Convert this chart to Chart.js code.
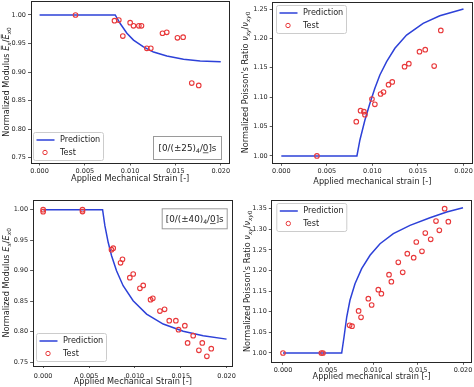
<!DOCTYPE html>
<html>
<head>
<meta charset="utf-8">
<script src="https://cdn.jsdelivr.net/npm/chart.js@4.4.1/dist/chart.umd.min.js"></script>
<style>
  html, body { margin: 0; padding: 0; background: #fff; }
  #wrap { position: relative; width: 474px; height: 387px; overflow: hidden; }
  .panel { position: absolute; }
</style>
</head>
<body>
<div id="wrap">
  <div class="panel" style="left:0;top:0;width:237px;height:193px"><canvas id="c1"></canvas></div>
  <div class="panel" style="left:237px;top:0;width:237px;height:193px"><canvas id="c2"></canvas></div>
  <div class="panel" style="left:0;top:193px;width:237px;height:194px"><canvas id="c3"></canvas></div>
  <div class="panel" style="left:237px;top:193px;width:237px;height:194px"><canvas id="c4"></canvas></div>
</div>
<script>
// axis ticks
const strainTicks = [0, 0.005, 0.010, 0.015, 0.020];
const modulusTicks = [0.75, 0.80, 0.85, 0.90, 0.95, 1.00];
const poissonTicks25 = [1.00, 1.05, 1.10, 1.15, 1.20, 1.25];
const poissonTicks40 = [1.00, 1.05, 1.10, 1.15, 1.20, 1.25, 1.30, 1.35];

const seriesLabels = ['Prediction', 'Test'];

// [0/(±25)4/0]s - modulus
const predStrainMod25 = [0, 0.00835, 0.0089, 0.00964, 0.01037, 0.01147, 0.01258, 0.01405, 0.01589, 0.01773, 0.020];
const predModulus25   = [1.0, 1.0, 0.985, 0.968, 0.956, 0.944, 0.935, 0.928, 0.9225, 0.9195, 0.9178];
const testStrainMod25 = [0.00397, 0.00827, 0.00875, 0.00919, 0.0100, 0.01037, 0.01096, 0.01125, 0.01184, 0.01228, 0.01357, 0.01404, 0.01522, 0.01585, 0.0168, 0.01757];
const testModulus25   = [1.000, 0.990, 0.991, 0.963, 0.9865, 0.981, 0.981, 0.981, 0.9415, 0.9415, 0.968, 0.9695, 0.960, 0.961, 0.8806, 0.8765];

// [0/(±25)4/0]s - poisson
const predStrainPoi25 = [0, 0.0083, 0.00863, 0.00918, 0.00973, 0.01027, 0.01082, 0.01156, 0.01247, 0.01375, 0.01557, 0.0174, 0.020];
const predPoisson25   = [1.0, 1.0, 1.0272, 1.0612, 1.0896, 1.1151, 1.1378, 1.1604, 1.1832, 1.2058, 1.2257, 1.2386, 1.25];
const testStrainPoi25 = [0.00391, 0.00823, 0.0087, 0.00907, 0.00918, 0.00995, 0.01027, 0.0109, 0.01122, 0.01177, 0.01218, 0.01353, 0.014, 0.01517, 0.0158, 0.01678, 0.01751];
const testPoisson25   = [1.000, 1.0584, 1.0771, 1.0754, 1.0703, 1.0969, 1.0879, 1.1054, 1.1088, 1.1213, 1.1259, 1.1519, 1.157, 1.1774, 1.1808, 1.153, 1.2137];

// [0/(±40)4/0]s - modulus
const predStrainMod40 = [0, 0.00648, 0.00673, 0.00709, 0.00746, 0.008, 0.00872, 0.00981, 0.01128, 0.01309, 0.01527, 0.01745, 0.020];
const predModulus40   = [1.0, 1.0, 0.9738, 0.9466, 0.9246, 0.9001, 0.8755, 0.8509, 0.8291, 0.8127, 0.8008, 0.7936, 0.788];
const testStrainMod40 = [0, 0, 0.00429, 0.00429, 0.00745, 0.00764, 0.00844, 0.00865, 0.00945, 0.00982, 0.01055, 0.01091, 0.01171, 0.01196, 0.01273, 0.01324, 0.01375, 0.01447, 0.01476, 0.01545, 0.01575, 0.01636, 0.01735, 0.01698, 0.01785, 0.01833];
const testModulus40   = [1.000, 0.9967, 1.000, 0.997, 0.9345, 0.937, 0.913, 0.9187, 0.8886, 0.8947, 0.8712, 0.876, 0.8526, 0.8548, 0.834, 0.8368, 0.8182, 0.8182, 0.8035, 0.81, 0.7817, 0.7937, 0.7817, 0.7697, 0.7598, 0.7724];

// [0/(±40)4/0]s - poisson
const predStrainPoi40 = [0, 0.00652, 0.00678, 0.00708, 0.00744, 0.008, 0.00874, 0.00967, 0.01078, 0.01226, 0.01411, 0.01633, 0.01819, 0.020];
const predPoisson40   = [1.0, 1.0, 1.0388, 1.0873, 1.1278, 1.1681, 1.2045, 1.237, 1.2651, 1.2894, 1.3097, 1.3282, 1.342, 1.3524];
const testStrainPoi40 = [0, 0.00426, 0.00444, 0.0074, 0.00767, 0.0084, 0.00867, 0.00948, 0.00985, 0.01059, 0.01093, 0.01178, 0.01204, 0.01281, 0.0133, 0.01381, 0.01452, 0.01481, 0.01544, 0.01581, 0.01641, 0.017, 0.01737, 0.01796, 0.01837];
const testPoisson40   = [1.000, 1.0, 1.0, 1.067, 1.065, 1.102, 1.0865, 1.1318, 1.1164, 1.1536, 1.1439, 1.19, 1.173, 1.2199, 1.1956, 1.2409, 1.2312, 1.2692, 1.2466, 1.291, 1.2757, 1.3201, 1.2975, 1.35, 1.3185];

const FONT = '"DejaVu Sans", sans-serif';
const BLUE = '#2d41d8';
const RED = '#e8383a';
const INK = '#1e1e1e';

function pts(xs, ys) { return xs.map((x, i) => ({ x: x, y: ys[i] })); }

const modTitle = bar => [
    { t: 'Normalized Modulus ' },
    { t: 'E', it: true, bar: bar }, { t: 'x', it: true, sub: true },
    { t: '/' },
    { t: 'E', it: true, bar: bar }, { t: 'x', it: true, sub: true }, { t: '0', sub: true }
];
const poiTitle = [
    { t: 'Normalized Poisson\'s Ratio ' },
    { t: 'ν', it: true }, { t: 'xy', it: true, sub: true },
    { t: '/' },
    { t: 'ν', it: true }, { t: 'xy', it: true, sub: true }, { t: '0', sub: true }
];
const layupText = angle => [
    { t: '[0/(±' + angle + ')' }, { t: '4', sub: true }, { t: '/' }, { t: '0', ul: true }, { t: ']s' }
];

// panel geometry (pixels inside each canvas)
const panels = [
    { id: 'c1', w: 237, h: 193, area: [30.5, 1, 229.8, 163], xr: [-0.001, 0.021], yr: [0.7405, 1.0245],
      yTicks: modulusTicks, pred: [predStrainMod25, predModulus25], test: [testStrainMod25, testModulus25],
      xTitle: 'Applied Mechanical Strain [-]', xPad: 8.8, xTickPad: 2, yTitle: modTitle(true), yTitleX: 5.7,
      legend: [33, 132], note: { box: [153, 136, 69, 24], segs: layupText(25) } },
    { id: 'c2', w: 237, h: 193, area: [35.2, 1.7, 235.6, 163.3], xr: [-0.001, 0.021], yr: [0.9875, 1.2625],
      yTicks: poissonTicks25, pred: [predStrainPoi25, predPoisson25], test: [testStrainPoi25, testPoisson25],
      xTitle: 'Applied mechanical strain [-]', xPad: 6.4, xTickPad: 2, yTitle: poiTitle, yTitleX: 8,
      legend: [39, 5] },
    { id: 'c3', w: 237, h: 194, area: [32.6, 7.3, 233, 172.5], xr: [-0.00115, 0.0207], yr: [0.7448, 1.0154],
      yTicks: modulusTicks, pred: [predStrainMod40, predModulus40], test: [testStrainMod40, testModulus40],
      xTitle: 'Applied Mechanical Strain [-]', xPad: 0.4, xTickPad: 4.5, yTitle: modTitle(false), yTitleX: 6,
      legend: [36, 140], note: { box: [161.7, 15.3, 66, 21], segs: layupText(40) } },
    { id: 'c4', w: 237, h: 194, area: [34.3, 7.3, 235, 169.3], xr: [-0.0013, 0.021], yr: [0.9774, 1.3704],
      yTicks: poissonTicks40, pred: [predStrainPoi40, predPoisson40], test: [testStrainPoi40, testPoisson40],
      xTitle: 'Applied mechanical strain [-]', xPad: 4.8, xTickPad: 2, yTitle: poiTitle, yTitleX: 10,
      legend: [39.3, 10] }
];

function segFont(s, size) {
    return (s.it ? 'italic ' : '') + (s.sub ? size * 0.7 : size) + 'px ' + FONT;
}
function richWidth(ctx, segs, size) {
    let w = 0;
    segs.forEach(s => { ctx.font = segFont(s, size); w += ctx.measureText(s.t).width; });
    return w;
}
// x = left edge, y = baseline
function drawRich(ctx, segs, x, y, size) {
    ctx.textAlign = 'left';
    ctx.textBaseline = 'alphabetic';
    let cx = x;
    segs.forEach(s => {
        ctx.font = segFont(s, size);
        const w = ctx.measureText(s.t).width;
        const dy = s.sub ? size * 0.25 : 0;
        ctx.fillText(s.t, cx, y + dy);
        ctx.lineWidth = 0.7;
        if (s.bar) {
            ctx.beginPath(); ctx.moveTo(cx + 1, y - size * 0.9); ctx.lineTo(cx + w, y - size * 0.9); ctx.stroke();
        }
        if (s.ul) {
            ctx.beginPath(); ctx.moveTo(cx, y + size * 0.2); ctx.lineTo(cx + w, y + size * 0.2); ctx.stroke();
        }
        cx += w;
    });
}

const panelDecor = {
    id: 'panelDecor',
    afterDraw(chart, args, opts) {
        const ctx = chart.ctx;
        const a = chart.chartArea;
        ctx.save();
        // axes frame
        ctx.strokeStyle = '#262626';
        ctx.lineWidth = 1;
        ctx.strokeRect(Math.round(a.left) + 0.5, Math.round(a.top) + 0.5,
            Math.round(a.right) - Math.round(a.left) - 1, Math.round(a.bottom) - Math.round(a.top));

        // y axis title
        ctx.fillStyle = INK;
        ctx.strokeStyle = INK;
        const tw = richWidth(ctx, opts.yTitle, 8.2);
        ctx.save();
        ctx.translate(opts.yTitleX, (a.top + a.bottom) / 2);
        ctx.rotate(-Math.PI / 2);
        drawRich(ctx, opts.yTitle, -tw / 2, 3, 8.2);
        ctx.restore();

        // legend
        const [lx, ly] = opts.legend;
        ctx.fillStyle = 'rgba(255,255,255,0.85)';
        ctx.strokeStyle = '#cccccc';
        ctx.lineWidth = 1;
        ctx.beginPath();
        ctx.roundRect(lx + 0.5, ly + 0.5, 70, 28, 2);
        ctx.fill(); ctx.stroke();
        const line = chart.data.datasets[0], test = chart.data.datasets[1];
        ctx.strokeStyle = line.borderColor;
        ctx.lineWidth = line.borderWidth;
        ctx.beginPath(); ctx.moveTo(lx + 3.5, ly + 8); ctx.lineTo(lx + 21.5, ly + 8); ctx.stroke();
        ctx.strokeStyle = test.borderColor;
        ctx.lineWidth = 1;
        ctx.beginPath(); ctx.arc(lx + 12, ly + 20.5, 2.2, 0, Math.PI * 2); ctx.stroke();
        ctx.fillStyle = INK;
        ctx.font = '8.1px ' + FONT;
        ctx.textBaseline = 'middle';
        ctx.textAlign = 'left';
        ctx.fillText(line.label, lx + 27, ly + 8);
        ctx.fillText(test.label, lx + 27, ly + 20.5);

        // lay-up annotation
        if (opts.note) {
            const [bx, by, bw, bh] = opts.note.box;
            ctx.fillStyle = '#ffffff';
            ctx.strokeStyle = '#9a9a9a';
            ctx.lineWidth = 1;
            ctx.fillRect(bx, by, bw, bh);
            ctx.strokeRect(bx + 0.5, by + 0.5, bw - 1, bh - 1);
            ctx.fillStyle = INK;
            ctx.strokeStyle = INK;
            const nw = richWidth(ctx, opts.note.segs, 8.8);
            drawRich(ctx, opts.note.segs, bx + (bw - nw) / 2, by + bh / 2 + 3, 8.8);
        }
        ctx.restore();
    }
};

panels.forEach(p => {
    const [l, t, r, b] = p.area;
    new Chart(document.getElementById(p.id), {
        type: 'scatter',
        data: {
            datasets: [
                {
                    label: seriesLabels[0], data: pts(p.pred[0], p.pred[1]), showLine: true,
                    borderColor: BLUE, borderWidth: 1.5, pointRadius: 0, fill: false, order: 1
                },
                {
                    label: seriesLabels[1], data: pts(p.test[0], p.test[1]), showLine: false,
                    pointRadius: 2.3, pointBorderWidth: 1.1, borderColor: RED,
                    pointBorderColor: RED, backgroundColor: 'rgba(0,0,0,0)', order: 0
                }
            ]
        },
        options: {
            responsive: true,
            maintainAspectRatio: false,
            animation: false,
            devicePixelRatio: 1,
            layout: { autoPadding: false, padding: { left: 0, top: t, right: p.w - r, bottom: 0 } },
            plugins: {
                legend: { display: false },
                tooltip: { enabled: false },
                panelDecor: { yTitle: p.yTitle, yTitleX: p.yTitleX, legend: p.legend, note: p.note }
            },
            scales: {
                x: {
                    type: 'linear', min: p.xr[0], max: p.xr[1],
                    afterBuildTicks: s => { s.ticks = strainTicks.map(v => ({ value: v })); },
                    afterFit: s => { s.height = p.h - b; s.paddingLeft = 0; s.paddingRight = 0; },
                    ticks: { callback: v => v.toFixed(3), font: { family: FONT, size: 6.5 }, color: INK,
                             padding: p.xTickPad, maxRotation: 0, autoSkip: false },
                    grid: { drawOnChartArea: false, drawTicks: true, tickLength: 2.5, color: '#333', lineWidth: 0.8 },
                    border: { display: false },
                    title: { display: true, text: p.xTitle, font: { family: FONT, size: 8.2 }, color: INK,
                             padding: { top: 0, bottom: p.xPad } }
                },
                y: {
                    type: 'linear', min: p.yr[0], max: p.yr[1],
                    afterBuildTicks: s => { s.ticks = p.yTicks.map(v => ({ value: v })); },
                    afterFit: s => { s.width = l; s.paddingTop = 0; s.paddingBottom = 0; },
                    ticks: { callback: v => v.toFixed(2), font: { family: FONT, size: 6.5 }, color: INK,
                             padding: 2, autoSkip: false },
                    grid: { drawOnChartArea: false, drawTicks: true, tickLength: 2.5, color: '#333', lineWidth: 0.8 },
                    border: { display: false },
                    title: { display: false }
                }
            }
        },
        plugins: [panelDecor]
    });
});
</script>
</body>
</html>
